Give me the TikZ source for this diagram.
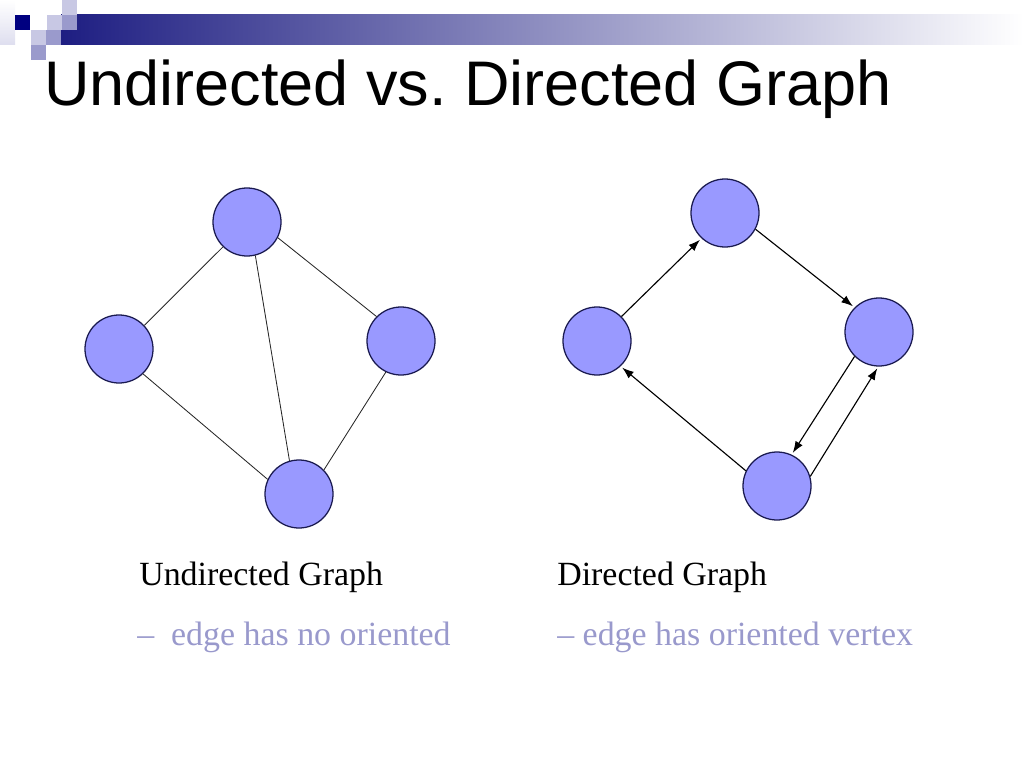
\documentclass[tikz,border=0pt]{standalone}
\usepackage{fontspec}
\setmainfont{Liberation Serif}
\newfontfamily\titlefont{Liberation Sans}
\usetikzlibrary{arrows.meta}
\definecolor{navy}{HTML}{000080}
\definecolor{barnavy}{HTML}{1E1E82}
\definecolor{barmid}{HTML}{8E8EAC}
\definecolor{lightlav}{HTML}{C8C8E4}
\definecolor{midlav}{HTML}{9A9ACC}
\definecolor{vfill}{HTML}{9999FF}
\definecolor{vline}{HTML}{1A1A50}
\definecolor{subtext}{HTML}{9999CC}
\tikzset{
    vertex/.style={circle,draw=vline,fill=vfill,line width=0.9pt,
      minimum size=17mm,inner sep=0pt,outer sep=0.4pt},
    uedge/.style={draw=black!85,line width=0.6pt},
    dedge/.style={-{Latex[length=2.9mm,width=2.1mm]},draw=black,
      line width=0.8pt,shorten >=1.5pt},
    caption/.style={anchor=base west,inner sep=0pt,
      font=\fontsize{24.1}{28}\selectfont},
    subcaption/.style={caption,text=subtext}
}
\frenchspacing

\begin{document}
\begin{tikzpicture}[x=0.025cm,y=-0.025cm]
  \useasboundingbox (0,0) rectangle (1024,768);
  % header tiles and bar
  \shade[top color=white,bottom color=lightlav!60] (0,0) rectangle (15,45);
  \shade[left color=barnavy,middle color=barmid,right color=white] (61,15) rectangle (1024,45);
  \fill[navy] (15,15) rectangle (30,30);
  \fill[lightlav] (62,0) rectangle (77,15);
  \fill[lightlav] (47,15) rectangle (62,30);
  \fill[midlav] (62,15) rectangle (77,30);
  \fill[lightlav] (31,30) rectangle (46,45);
  \fill[midlav] (46,30) rectangle (61,45);
  \fill[midlav] (31,45) rectangle (46,60);
  \node[anchor=base west,inner sep=0pt,font=\titlefont\fontsize{44.8}{50}\selectfont] (title) at (44,106) {Undirected vs. Directed Graph};
  % undirected graph
  \node[vertex] (ut) at (247,222) {};
  \node[vertex] (ul) at (119,349) {};
  \node[vertex] (ur) at (401,341) {};
  \node[vertex] (ub) at (299,494) {};
  \draw[uedge] (ut.226) -- (ul.43);
  \draw[uedge] (ut.333) -- (ur.135);
  \draw[uedge] (ut.284) -- (ub.106);
  \draw[uedge] (ul.314) -- (ub.155);
  \draw[uedge] (ur.244) -- (ub.44);
  % directed graph
  \node[vertex] (dt) at (725,213) {};
  \node[vertex] (dl) at (597,341) {};
  \node[vertex] (dr) at (879,332) {};
  \node[vertex] (db) at (777,486) {};
  \draw[dedge] (dl.45) -- (dt.227);
  \draw[dedge] (dt.332) -- (dr.135);
  \draw[dedge] (db.154) -- (dl.313);
  \draw[dedge] (dr.225) -- (db.65);
  \draw[dedge] (db.16) -- (dr.269);
  % captions
  \node[caption] (ucap) at (139,585) {Undirected Graph};
  \node[caption] (dcap) at (557,585) {Directed Graph};
  \node[subcaption] (unote) at (137,645) {–\ \ edge has no oriented};
  \node[subcaption] (dnote) at (557,645) {– edge has oriented vertex};
\end{tikzpicture}
\end{document}
